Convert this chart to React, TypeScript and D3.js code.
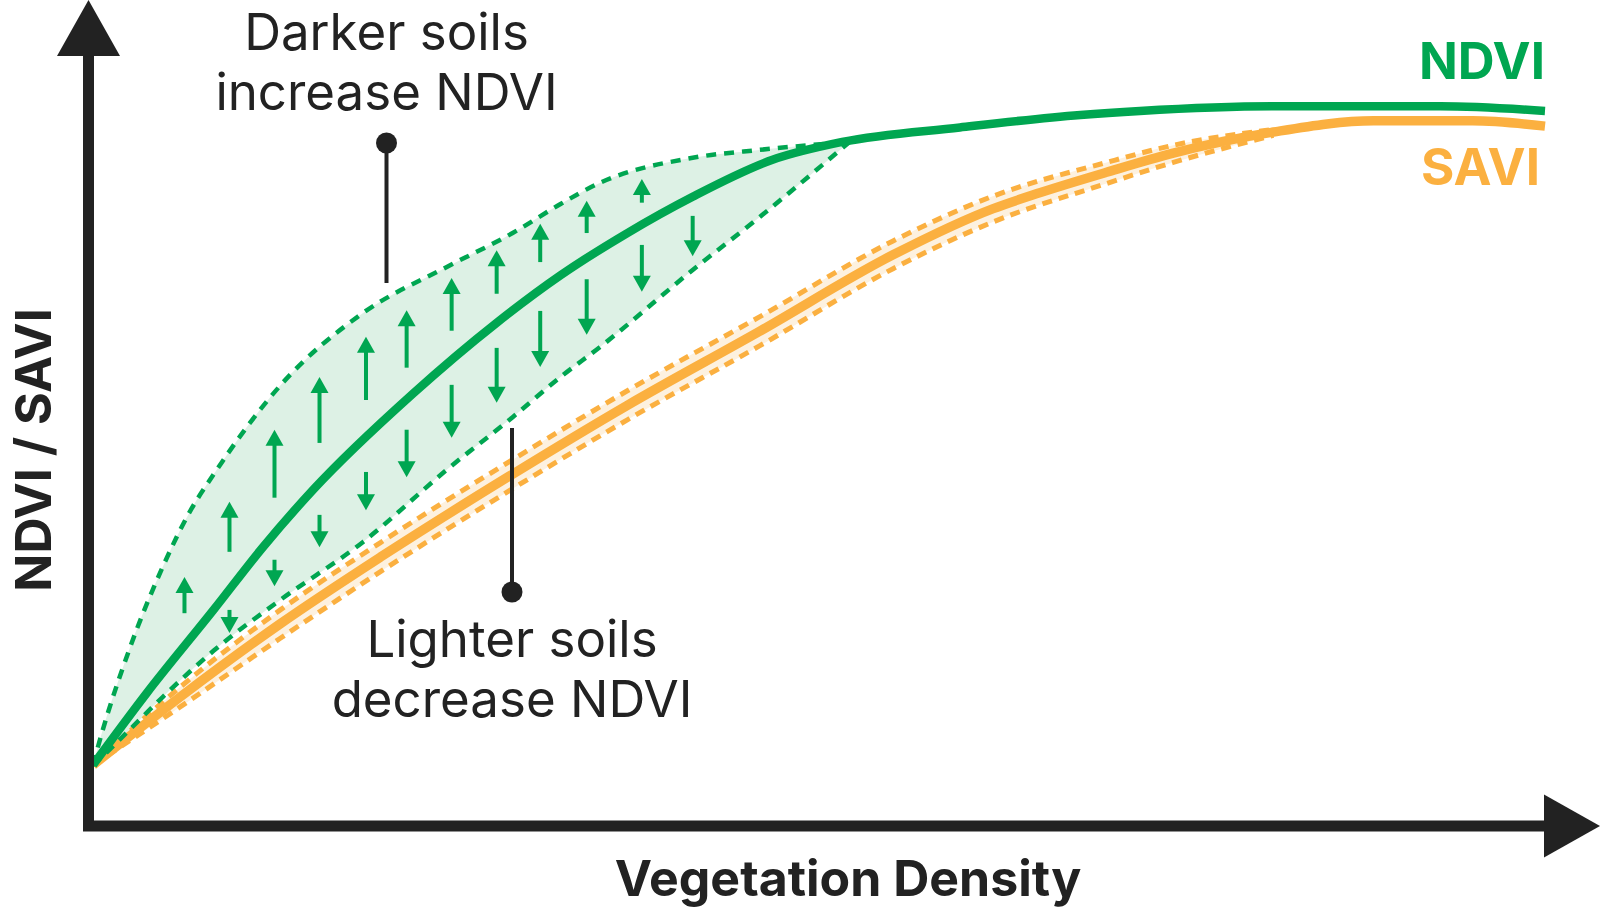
import React from 'react';
import * as d3 from 'd3';

// ---- Data (x: vegetation density 0..1, y: index value 0..1) ----
const ndviX = [0, 0.037, 0.083, 0.117, 0.152, 0.22, 0.278, 0.322, 0.368, 0.413, 0.468, 0.516, 0.597, 0.68, 0.721, 0.813, 0.928, 1.0];
const ndviY = [0, 0.109, 0.235, 0.33, 0.418, 0.562, 0.67, 0.742, 0.806, 0.861, 0.917, 0.944, 0.966, 0.985, 0.991, 0.998, 0.998, 0.991];

const ndviBandX = [0, 0.005, 0.025, 0.048, 0.067, 0.083, 0.129, 0.186, 0.244, 0.289, 0.322, 0.349, 0.413, 0.459, 0.521];
const ndviDarkSoil = [0, 0.04, 0.175, 0.3, 0.385, 0.44, 0.575, 0.685, 0.755, 0.806, 0.85, 0.882, 0.92, 0.932, 0.944];
const ndviLightSoil = [0, 0.01, 0.053, 0.103, 0.142, 0.173, 0.25, 0.338, 0.448, 0.527, 0.588, 0.633, 0.75, 0.83, 0.944];

const saviX = [0, 0.06, 0.129, 0.198, 0.287, 0.368, 0.459, 0.551, 0.62, 0.652, 0.698, 0.744, 0.813, 0.882, 0.95, 1.0];
const saviY = [0, 0.103, 0.214, 0.315, 0.438, 0.545, 0.657, 0.773, 0.843, 0.867, 0.898, 0.927, 0.959, 0.976, 0.976, 0.968];

const saviBandX = [0, 0.06, 0.129, 0.198, 0.287, 0.368, 0.459, 0.551, 0.62, 0.698, 0.744, 0.813];
const saviDarkSoil = [0, 0.118, 0.235, 0.337, 0.46, 0.567, 0.679, 0.794, 0.862, 0.913, 0.939, 0.963];
const saviLightSoil = [0, 0.088, 0.192, 0.293, 0.416, 0.523, 0.635, 0.752, 0.823, 0.881, 0.913, 0.954];

const upArrowX = [0.063, 0.094, 0.125, 0.156, 0.188, 0.216, 0.247, 0.278, 0.308, 0.34, 0.378];
const upArrowFrom = [0.23, 0.323, 0.405, 0.488, 0.553, 0.602, 0.658, 0.714, 0.762, 0.806, 0.852];
const upArrowTo = [0.285, 0.399, 0.508, 0.588, 0.649, 0.689, 0.738, 0.78, 0.82, 0.855, 0.888];

const downArrowX = [0.094, 0.125, 0.156, 0.188, 0.216, 0.247, 0.278, 0.308, 0.34, 0.378, 0.413];
const downArrowFrom = [0.235, 0.311, 0.379, 0.444, 0.508, 0.576, 0.632, 0.688, 0.736, 0.788, 0.832];
const downArrowTo = [0.2, 0.271, 0.33, 0.386, 0.436, 0.496, 0.549, 0.603, 0.652, 0.717, 0.771];

const seriesLabels = ['NDVI', 'SAVI'];
const axisLabels = { x: 'Vegetation Density', y: 'NDVI / SAVI' };
const noteDarker = ['Darker soils', 'increase NDVI'];
const noteLighter = ['Lighter soils', 'decrease NDVI'];

const GREEN = '#00A651';
const ORANGE = '#FBB040';
const INK = '#222222';
const FONT = 'Inter, "Noto Sans", sans-serif';

export default function App() {
  const W = 1600;
  const H = 922;
  const x = d3.scaleLinear().domain([0, 1]).range([93, 1545]);
  const y = d3.scaleLinear().domain([0, 1]).range([765, 105]);

  const line = (xs: number[], ys: number[]) =>
    d3
      .line<number>()
      .x((_, i) => x(xs[i]))
      .y((_, i) => y(ys[i]))
      .curve(d3.curveMonotoneX)(xs) || '';
  const area = (xs: number[], lo: number[], hi: number[]) =>
    d3
      .area<number>()
      .x((_, i) => x(xs[i]))
      .y0((_, i) => y(lo[i]))
      .y1((_, i) => y(hi[i]))
      .curve(d3.curveMonotoneX)(xs) || '';

  const axX = 88.5;
  const axY = 826;
  const arrowLen = 56;
  const arrowHalf = 31.5;

  const headH = 16;
  const headW = 9;
  const arrowMark = (px: number, from: number, to: number, key: string) => {
    const dir = to < from ? -1 : 1;
    const baseY = to - dir * headH;
    return (
      <g key={key}>
        <line x1={px} y1={from} x2={px} y2={baseY + dir * 1} stroke={GREEN} strokeWidth={4} />
        <polygon points={`${px},${to} ${px - headW},${baseY} ${px + headW},${baseY}`} fill={GREEN} />
      </g>
    );
  };

  return (
    <svg
      width={W}
      height={H}
      viewBox={`0 0 ${W} ${H}`}
      style={{ position: 'fixed', left: 0, top: 0, background: '#fff' }}
      fontFamily={FONT}
    >
      <rect width={W} height={H} fill="#fff" />

      {/* bands */}
      <path d={area(ndviBandX, ndviLightSoil, ndviDarkSoil)} fill="#DDF1E5" />
      <path d={area(saviBandX, saviLightSoil, saviDarkSoil)} fill="#FDF1DF" />

      {/* SAVI dashed + line */}
      <path d={line(saviBandX, saviDarkSoil)} fill="none" stroke={ORANGE} strokeWidth={5} strokeDasharray="10 7" />
      <path d={line(saviBandX, saviLightSoil)} fill="none" stroke={ORANGE} strokeWidth={5} strokeDasharray="10 7" />
      <path d={line(saviX, saviY)} fill="none" stroke={ORANGE} strokeWidth={9.5} />

      {/* NDVI dashed */}
      <path d={line(ndviBandX, ndviDarkSoil)} fill="none" stroke={GREEN} strokeWidth={4.5} strokeDasharray="10 8" />
      <path d={line(ndviBandX, ndviLightSoil)} fill="none" stroke={GREEN} strokeWidth={4.5} strokeDasharray="10 8" />

      {/* arrows */}
      {upArrowX.map((v, i) => arrowMark(x(v), y(upArrowFrom[i]), y(upArrowTo[i]), 'u' + i))}
      {downArrowX.map((v, i) => arrowMark(x(v), y(downArrowFrom[i]), y(downArrowTo[i]), 'd' + i))}

      {/* NDVI line */}
      <path d={line(ndviX, ndviY)} fill="none" stroke={GREEN} strokeWidth={8.5} />

      {/* axes */}
      <polyline
        points={`${axX},${arrowLen} ${axX},${axY} ${W - arrowLen},${axY}`}
        fill="none"
        stroke={INK}
        strokeWidth={11}
        strokeLinejoin="miter"
      />
      <polygon points={`${axX},0 ${axX - arrowHalf},${arrowLen} ${axX + arrowHalf},${arrowLen}`} fill={INK} />
      <polygon points={`${W},${axY} ${W - arrowLen},${axY - arrowHalf} ${W - arrowLen},${axY + arrowHalf}`} fill={INK} />

      {/* axis labels */}
      <text x={848} y={896} textAnchor="middle" fontSize={50} fontWeight={700} fill={INK}>
        {axisLabels.x}
      </text>
      <text transform="translate(51,450) rotate(-90)" textAnchor="middle" fontSize={50} fontWeight={700} fill={INK}>
        {axisLabels.y}
      </text>

      {/* series labels */}
      <text x={1545} y={79} textAnchor="end" fontSize={51} fontWeight={700} fill={GREEN}>
        {seriesLabels[0]}
      </text>
      <text x={1540} y={185} textAnchor="end" fontSize={51} fontWeight={700} fill={ORANGE}>
        {seriesLabels[1]}
      </text>

      {/* annotations */}
      <g fill={INK} fontSize={51} textAnchor="middle">
        <text x={386.5} y={50}>{noteDarker[0]}</text>
        <text x={386.5} y={110}>{noteDarker[1]}</text>
        <text x={512} y={657}>{noteLighter[0]}</text>
        <text x={512} y={717}>{noteLighter[1]}</text>
      </g>
      <line x1={386.5} y1={143} x2={386.5} y2={283} stroke={INK} strokeWidth={4} />
      <circle cx={386.5} cy={143} r={10.5} fill={INK} />
      <line x1={512} y1={428} x2={512} y2={592} stroke={INK} strokeWidth={4} />
      <circle cx={512} cy={592} r={10.5} fill={INK} />
    </svg>
  );
}
